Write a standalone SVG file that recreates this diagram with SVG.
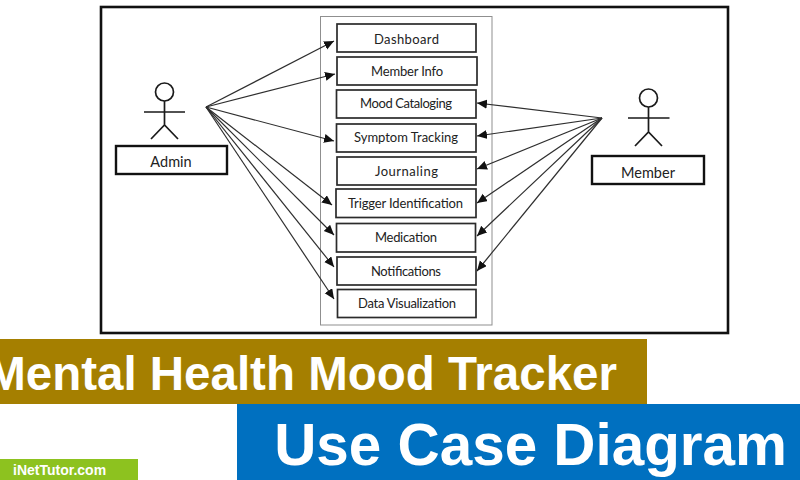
<svg xmlns="http://www.w3.org/2000/svg" width="800" height="480" viewBox="0 0 800 480">
<style>
.uc{fill:#fff;stroke:#2b2b2b;stroke-width:1.7}
.lb{font-family:"Lato","Open Sans",sans-serif;font-size:13px;fill:#222;text-anchor:middle}
.ac{font-size:14.5px}
.st{fill:none;stroke:#1a1a1a;stroke-width:1.7}
.cn line{stroke:#2e2e2e;stroke-width:1.2;marker-end:url(#a)}
.ti{font-family:"Liberation Sans",Arial,sans-serif;font-weight:700;fill:#fff}
</style>
<defs>
<marker id="a" markerUnits="userSpaceOnUse" markerWidth="11" markerHeight="10" refX="10" refY="4.5" orient="auto"><path d="M0 0L10 4.5L0 9Z" fill="#111"/></marker>
</defs>
<rect width="800" height="480" fill="#fff"/>
<rect id="frame" x="101" y="7" width="627" height="326" fill="#fff" stroke="#111" stroke-width="2.6"/>
<rect id="boundary" x="320.500" y="16.500" width="171.500" height="308.500" fill="#fff" stroke="#8f8f8f" stroke-width="1"/>
<g id="connectors" class="cn">
<line x1="206" y1="107" x2="334" y2="41"/>
<line x1="206" y1="107" x2="335" y2="74"/>
<line x1="206" y1="107" x2="334" y2="141"/>
<line x1="206" y1="107" x2="332" y2="205"/>
<line x1="206" y1="107" x2="334" y2="235"/>
<line x1="206" y1="107" x2="334" y2="267"/>
<line x1="206" y1="107" x2="334" y2="299"/>
<line x1="602" y1="118" x2="477" y2="103"/>
<line x1="602" y1="118" x2="477" y2="136"/>
<line x1="602" y1="118" x2="477" y2="169"/>
<line x1="602" y1="118" x2="477" y2="203"/>
<line x1="602" y1="118" x2="477" y2="236"/>
<line x1="602" y1="118" x2="477" y2="271"/>
</g>
<g id="dashboard"><rect class="uc" x="337" y="24" width="139" height="28"/><text class="lb" x="406.500" y="43.500" textLength="65">Dashboard</text></g>
<g id="member-info"><rect class="uc" x="337" y="57" width="140" height="28"/><text class="lb" x="407" y="75.500" textLength="72">Member Info</text></g>
<g id="mood-cataloging"><rect class="uc" x="336.500" y="90" width="139.500" height="28"/><text class="lb" x="406" y="108" textLength="92">Mood Cataloging</text></g>
<g id="symptom-tracking"><rect class="uc" x="336.500" y="124" width="139.500" height="28"/><text class="lb" x="406" y="142" textLength="104">Symptom Tracking</text></g>
<g id="journaling"><rect class="uc" x="337" y="157" width="139" height="28"/><text class="lb" x="406.500" y="176" textLength="63">Journaling</text></g>
<g id="trigger-identification"><rect class="uc" x="336" y="189" width="140" height="28.500"/><text class="lb" x="405.500" y="207.500" textLength="115">Trigger Identification</text></g>
<g id="medication"><rect class="uc" x="336.500" y="223.500" width="139" height="28.500"/><text class="lb" x="406" y="242" textLength="62">Medication</text></g>
<g id="notifications"><rect class="uc" x="337" y="257" width="139" height="28"/><text class="lb" x="406" y="275.500" textLength="70">Notifications</text></g>
<g id="data-visualization"><rect class="uc" x="337.500" y="289.500" width="138.500" height="28"/><text class="lb" x="407" y="307.500" textLength="98">Data Visualization</text></g>
<g id="admin">
<circle class="st" cx="164.500" cy="92" r="9"/>
<path class="st" d="M164.500 101V125M144 112H185M151 139L164.500 125L178 139"/>
<rect x="116" y="146" width="111" height="28" fill="#fff" stroke="#111" stroke-width="2.4"/>
<text class="lb ac" x="171" y="167">Admin</text>
</g>
<g id="member">
<circle class="st" cx="648.500" cy="98" r="9"/>
<path class="st" d="M648.500 107V132M628 118H669.500M635 146L648.500 132L662 146"/>
<rect x="592" y="156" width="112" height="28" fill="#fff" stroke="#111" stroke-width="2.4"/>
<text class="lb ac" x="648" y="177.500">Member</text>
</g>
<g id="title-bar">
<rect x="0" y="339" width="647" height="65" fill="#a57f00"/>
<text class="ti" x="617" y="390" font-size="47.500" text-anchor="end">Mental Health Mood Tracker</text>
</g>
<g id="subtitle-bar">
<rect x="237" y="404" width="563" height="76" fill="#0070c0"/>
<text class="ti" x="787" y="465" font-size="58.400" text-anchor="end">Use Case Diagram</text>
</g>
<g id="site-badge">
<rect x="0" y="459" width="138" height="21" fill="#8dc21f"/>
<text class="ti" x="13" y="475" font-size="14">iNetTutor.com</text>
</g>
</svg>
